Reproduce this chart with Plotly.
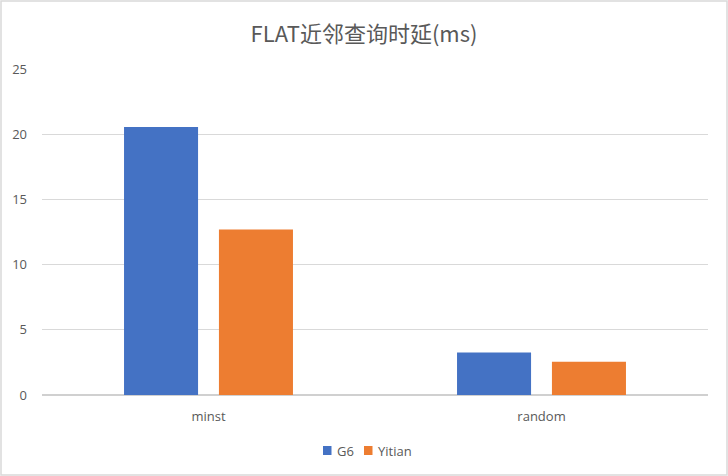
import plotly.graph_objects as go

categories = ["minst", "random"]
g6_values = [20.55, 3.25]
yitian_values = [12.7, 2.55]
series_names = ["G6", "Yitian"]
series_colors = ["#4472C4", "#ED7D31"]
y_ticks = [0, 5, 10, 15, 20, 25]
title_text = "FLAT近邻查询时延(ms)"

font_family = "Open Sans, Noto Sans CJK SC, sans-serif"

fig = go.Figure()
for name, vals, col in zip(series_names, [g6_values, yitian_values], series_colors):
    fig.add_trace(go.Bar(x=categories, y=vals, name=name, showlegend=False,
                         marker=dict(color=col, line=dict(width=0))))

L, R, T, B = 42, 20, 69, 81
W, H = 728, 476
pw, ph = W - L - R, H - T - B
x0pix, y0pix = L, H - B  # plot-area origin in pixels


def px(x):
    return (x - x0pix) / pw


def py(y):
    return (y0pix - y) / ph


shapes = [dict(type="rect", xref="paper", yref="paper",
               x0=px(1), x1=px(W - 1), y0=py(H - 1), y1=py(1),
               line=dict(color="#D9D9D9", width=1.5), fillcolor="rgba(0,0,0,0)", layer="below")]
annotations = []
# manual legend (squares + labels)
legend_items = [(323, 335), (364, 376)]
for (sx, tx), name, col in zip(legend_items, series_names, series_colors):
    shapes.append(dict(type="rect", xref="paper", yref="paper",
                       x0=px(sx), x1=px(sx + 8.5), y0=py(455), y1=py(446),
                       line=dict(width=0), fillcolor=col))
    annotations.append(dict(text=name, xref="paper", yref="paper", x=px(tx), y=py(450.5),
                            xanchor="left", yanchor="middle", showarrow=False,
                            font=dict(size=13, color="#595959", family=font_family)))

fig.update_layout(
    width=W, height=H,
    margin=dict(l=L, r=R, t=T, b=B, pad=0),
    paper_bgcolor="white", plot_bgcolor="white",
    barmode="group", bargap=0.43, bargroupgap=0.22,
    font=dict(family=font_family, color="#595959", size=13),
    title=dict(text=title_text, x=0.5, xanchor="center", y=1 - 34 / H, yanchor="middle",
               font=dict(family="Noto Sans CJK SC, Open Sans, sans-serif", size=22, color="#595959")),
    xaxis=dict(showgrid=False, showline=False, ticks="", ticklabelstandoff=12,
               tickfont=dict(size=13, color="#595959")),
    yaxis=dict(range=[0, 25], tickvals=y_ticks, showgrid=True, gridcolor="#D9D9D9", gridwidth=1,
               zeroline=True, zerolinecolor="#D0D0D0", zerolinewidth=1.5, showline=False,
               ticks="", ticklabelstandoff=14, tickfont=dict(size=13, color="#595959")),
    showlegend=False,
    shapes=shapes,
    annotations=annotations,
)

fig.write_html("out.html", config={"displayModeBar": False},
               post_script="document.body.style.margin='0';document.body.style.overflow='hidden';")
